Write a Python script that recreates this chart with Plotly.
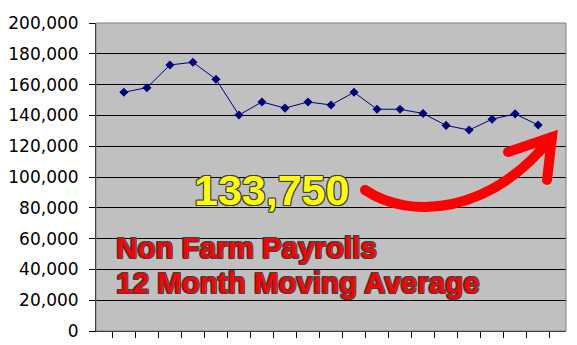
import plotly.graph_objects as go

# ---- data ----
periods = [str(i) for i in range(1, 20)]
payrolls_12m_avg = [155000, 158000, 172750, 174500, 163500, 140250, 148750, 144750,
                    148750, 146750, 155000, 144000, 144000, 141250, 133500, 130500,
                    137500, 141000, 133750]
y_tick_values = [0, 20000, 40000, 60000, 80000, 100000, 120000, 140000, 160000, 180000, 200000]
y_tick_labels = [f"{v:,}" for v in y_tick_values]
callout_value = f"{payrolls_12m_avg[-1]:,}"
title_lines = ["Non Farm Payrolls", "12 Month Moving Average"]

W, H = 577, 345
ML, MR, MT, MB = 96, 11, 23, 14
PW, PH = W - ML - MR, H - MT - MB


def px(x):
    return (x - ML) / PW


def py(y):
    return (H - MB - y) / PH


fig = go.Figure()
fig.add_trace(go.Scatter(
    x=periods, y=payrolls_12m_avg, mode="lines+markers",
    line=dict(color="#000080", width=1),
    marker=dict(symbol="diamond", size=7, color="#000080"),
    showlegend=False, hoverinfo="skip",
))

oc = "#404040"
outline = ", ".join(f"{dx}px {dy}px 0 {oc}" for dx, dy in
                    [(-1, -1), (1, -1), (-1, 1), (1, 1), (0, 1), (0, -1), (1, 0), (-1, 0)])
big_font = "Liberation Sans, Arial, sans-serif"

annotations = [
    dict(text=callout_value, xref="paper", yref="paper", x=px(192), y=py(190),
         xanchor="left", yanchor="middle", showarrow=False,
         font=dict(family=big_font, size=43, color="#FFFF00", weight="bold", shadow=outline)),
    dict(text=title_lines[0], xref="paper", yref="paper", x=px(114), y=py(247),
         xanchor="left", yanchor="middle", showarrow=False,
         font=dict(family=big_font, size=29.5, color="#FF0000", weight="bold", shadow=outline)),
    dict(text=title_lines[1], xref="paper", yref="paper", x=px(114), y=py(282),
         xanchor="left", yanchor="middle", showarrow=False,
         font=dict(family=big_font, size=29.5, color="#FF0000", weight="bold", shadow=outline)),
]


def pt(x, y):
    return f"{px(x):.5f},{py(y):.5f}"


arrow_curve = f"M{pt(365,190)} C{pt(410,220)} {pt(490,215)} {pt(552,137)}"
arrow_head = f"M{pt(508,152)} L{pt(552,137)} L{pt(547,180)}"
shapes = [
    dict(type="rect", xref="paper", yref="paper", x0=0, y0=0, x1=1, y1=1,
         line=dict(color="#808080", width=1), layer="above"),
    dict(type="path", xref="paper", yref="paper", path=arrow_curve,
         line=dict(color="#FF0000", width=10), layer="above"),
    dict(type="path", xref="paper", yref="paper", path=arrow_head,
         line=dict(color="#FF0000", width=10), layer="above"),
]
for (cx, cy) in [(365, 190), (508, 152), (547, 180), (552, 137)]:
    r = 5
    shapes.append(dict(type="circle", xref="paper", yref="paper",
                       x0=px(cx - r), x1=px(cx + r), y0=py(cy + r), y1=py(cy - r),
                       fillcolor="#FF0000", line=dict(width=0), layer="above"))

fig.update_layout(
    template="none",
    width=W, height=H,
    margin=dict(l=ML, r=MR, t=MT, b=MB, pad=0, autoexpand=False),
    paper_bgcolor="#FFFFFF", plot_bgcolor="#C0C0C0",
    annotations=annotations, shapes=shapes,
    xaxis=dict(type="category", showgrid=False, showline=True, linecolor="#000000", linewidth=1,
               ticks="outside", tickson="boundaries", ticklen=6, tickcolor="#000000",
               showticklabels=False, zeroline=False, automargin=False),
    yaxis=dict(range=[0, 200000], tickvals=y_tick_values, ticktext=y_tick_labels,
               showgrid=True, gridcolor="#000000", gridwidth=1,
               showline=True, linecolor="#000000", linewidth=1,
               ticks="outside", ticklen=6, tickcolor="#000000", zeroline=False,
               automargin=False, ticklabelstandoff=7,
               tickfont=dict(family="DejaVu Sans", size=17, color="#000000")),
)

fig.write_html("out.html")
